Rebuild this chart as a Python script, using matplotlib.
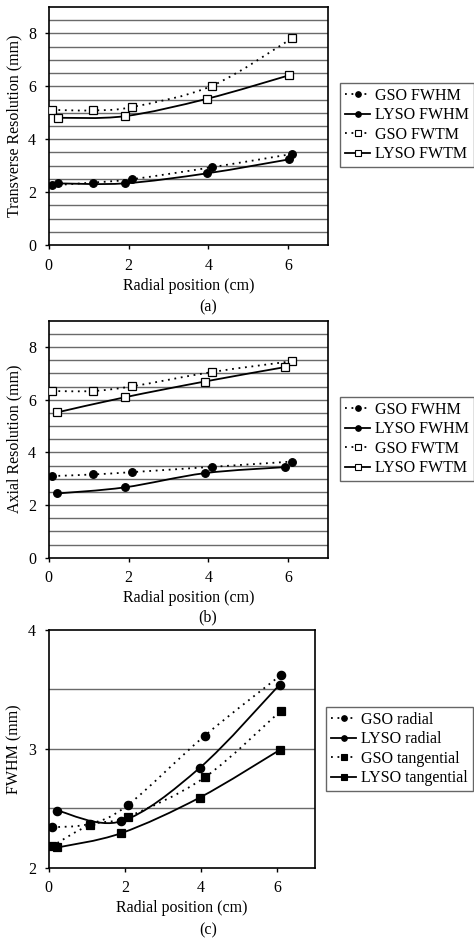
import numpy as np
import matplotlib
matplotlib.use('Agg')
import matplotlib.pyplot as plt
from matplotlib.path import Path
from matplotlib.patches import PathPatch
from matplotlib.lines import Line2D

# ---- data ----
# (a) transverse resolution
a_gso_x = [0.08, 1.10, 2.10, 4.09, 6.09]
a_lyso_x = [0.24, 1.90, 3.97, 6.03]
a_gso_fwhm = [2.26, 2.36, 2.49, 2.94, 3.44]
a_lyso_fwhm = [2.33, 2.33, 2.71, 3.24]
a_gso_fwtm = [5.11, 5.09, 5.22, 6.02, 7.81]
a_lyso_fwtm = [4.81, 4.87, 5.53, 6.42]

# (b) axial resolution
b_gso_x = [0.08, 1.10, 2.10, 4.09, 6.09]
b_lyso_x = [0.22, 1.90, 3.91, 5.93]
b_gso_fwhm = [3.10, 3.16, 3.25, 3.45, 3.65]
b_lyso_fwhm = [2.44, 2.67, 3.21, 3.44]
b_gso_fwtm = [6.33, 6.33, 6.51, 7.05, 7.46]
b_lyso_fwtm = [5.52, 6.09, 6.69, 7.24]

# (c) radial / tangential FWHM
c_gso_x = [0.08, 1.09, 2.09, 4.10, 6.10]
c_lyso_x = [0.23, 1.90, 3.97, 6.07]
c_gso_rad = [2.34, 2.37, 2.53, 3.11, 3.62]
c_lyso_rad = [2.48, 2.39, 2.84, 3.54]
c_gso_tan = [2.18, 2.36, 2.43, 2.76, 3.32]
c_lyso_tan = [2.17, 2.29, 2.59, 2.99]

W, H = 474, 942
plt.rcParams['font.family'] = ['Liberation Serif', 'DejaVu Serif']
plt.rcParams['font.size'] = 11.5

DOT = (0, (1, 2.6))
LW = 1.3
GRID = '#6a6a6a'


def smooth_line(ax, x, y, ls):
    """Excel-like smoothed line: Catmull-Rom segments as cubic Beziers."""
    p = np.column_stack([x, y]).astype(float)
    pts = np.vstack([p[0], p, p[-1]])
    verts = [tuple(p[0])]
    codes = [Path.MOVETO]
    for i in range(1, len(pts) - 2):
        p0, p1, p2, p3 = pts[i - 1], pts[i], pts[i + 1], pts[i + 2]
        c1 = p1 + (p2 - p0) / 6.0
        c2 = p2 - (p3 - p1) / 6.0
        verts += [tuple(c1), tuple(c2), tuple(p2)]
        codes += [Path.CURVE4] * 3
    patch = PathPatch(Path(verts, codes), facecolor='none', edgecolor='black',
                      linewidth=LW, linestyle=ls, zorder=2)
    ax.add_patch(patch)


def series(ax, x, y, ls, marker, mfc, ms):
    smooth_line(ax, x, y, ls)
    ax.plot(x, y, linestyle='none', marker=marker, markersize=ms,
            markerfacecolor=mfc, markeredgecolor='black', markeredgewidth=0.9,
            zorder=3)


def handle(ls, marker, mfc, ms):
    return Line2D([], [], color='black', linewidth=LW, linestyle=ls,
                  marker=marker, markersize=ms, markerfacecolor=mfc,
                  markeredgecolor='black', markeredgewidth=0.8)


def style_axes(ax, ylim, yticks, grid):
    ax.set_xlim(0, 7)
    ax.set_ylim(*ylim)
    ax.set_xticks([0, 2, 4, 6])
    ax.set_yticks(yticks)
    for g in grid:
        ax.axhline(g, color=GRID, linewidth=1.0, zorder=1)
    for s in ax.spines.values():
        s.set_linewidth(1.2)
        s.set_color('black')
    ax.tick_params(direction='out', length=3, width=1.0, pad=6, labelsize=11.5)
    ax.set_xlabel('Radial position (cm)', fontsize=11.5, labelpad=3)


fig = plt.figure(figsize=(W / 100, H / 100), dpi=100)

ax_a = fig.add_axes([48.7 / W, 1 - 245 / H, (328 - 48.7) / W, 238 / H])
ax_b = fig.add_axes([48.7 / W, 1 - 557.7 / H, (328 - 48.7) / W, 237 / H])
ax_c = fig.add_axes([48.7 / W, 1 - 867.7 / H, (315 - 48.7) / W, 237.7 / H])

fine_grid = np.arange(0.5, 9.0, 0.5)

# (a)
series(ax_a, a_gso_x, a_gso_fwhm, DOT, 'o', 'black', 5.5)
series(ax_a, a_lyso_x, a_lyso_fwhm, '-', 'o', 'black', 5.5)
series(ax_a, a_gso_x, a_gso_fwtm, DOT, 's', 'white', 5.5)
series(ax_a, a_lyso_x, a_lyso_fwtm, '-', 's', 'white', 5.5)
style_axes(ax_a, (0, 9), [0, 2, 4, 6, 8], fine_grid)
ax_a.set_ylabel('Transverse Resolution (mm)', fontsize=11.5, labelpad=4)

# (b)
series(ax_b, b_gso_x, b_gso_fwhm, DOT, 'o', 'black', 5.5)
series(ax_b, b_lyso_x, b_lyso_fwhm, '-', 'o', 'black', 5.5)
series(ax_b, b_gso_x, b_gso_fwtm, DOT, 's', 'white', 5.5)
series(ax_b, b_lyso_x, b_lyso_fwtm, '-', 's', 'white', 5.5)
style_axes(ax_b, (0, 9), [0, 2, 4, 6, 8], fine_grid)
ax_b.set_ylabel('Axial Resolution (mm)', fontsize=11.5, labelpad=4)

# (c)
series(ax_c, c_gso_x, c_gso_rad, DOT, 'o', 'black', 6)
series(ax_c, c_lyso_x, c_lyso_rad, '-', 'o', 'black', 6)
series(ax_c, c_gso_x, c_gso_tan, DOT, 's', 'black', 6)
series(ax_c, c_lyso_x, c_lyso_tan, '-', 's', 'black', 6)
style_axes(ax_c, (2, 4), [2, 3, 4], [2.5, 3.0, 3.5])
ax_c.set_ylabel('FWHM (mm)', fontsize=11.5, labelpad=4)

# legends
res_handles = [handle(DOT, 'o', 'black', 4), handle('-', 'o', 'black', 4),
               handle(DOT, 's', 'white', 4), handle('-', 's', 'white', 4)]
res_labels = ['GSO FWHM', 'LYSO FWHM', 'GSO FWTM', 'LYSO FWTM']
c_handles = [handle(DOT, 'o', 'black', 4), handle('-', 'o', 'black', 4),
             handle(DOT, 's', 'black', 4), handle('-', 's', 'black', 4)]
c_labels = ['GSO radial', 'LYSO radial', 'GSO tangential', 'LYSO tangential']

leg_kw = dict(loc='upper left', bbox_transform=fig.transFigure, borderaxespad=0,
              frameon=True, fancybox=False, framealpha=1, edgecolor='#666666',
              fontsize=11.5, handlelength=1.6, handletextpad=0.3,
              labelspacing=0.22, borderpad=0.3)
for ax, hs, ls, anchor in [(ax_a, res_handles, res_labels, (340 / W, 1 - 83 / H)),
                           (ax_b, res_handles, res_labels, (340 / W, 1 - 397 / H)),
                           (ax_c, c_handles, c_labels, (326 / W, 1 - 707 / H))]:
    leg = ax.legend(hs, ls, bbox_to_anchor=anchor, **leg_kw)
    leg.get_frame().set_linewidth(1.0)

# captions
for lab, yc in [('(a)', 307), ('(b)', 617), ('(c)', 930)]:
    fig.text(208 / W, 1 - yc / H, lab, ha='center', va='center', fontsize=11.5)

fig.savefig('out.png', dpi=100, facecolor='white')
